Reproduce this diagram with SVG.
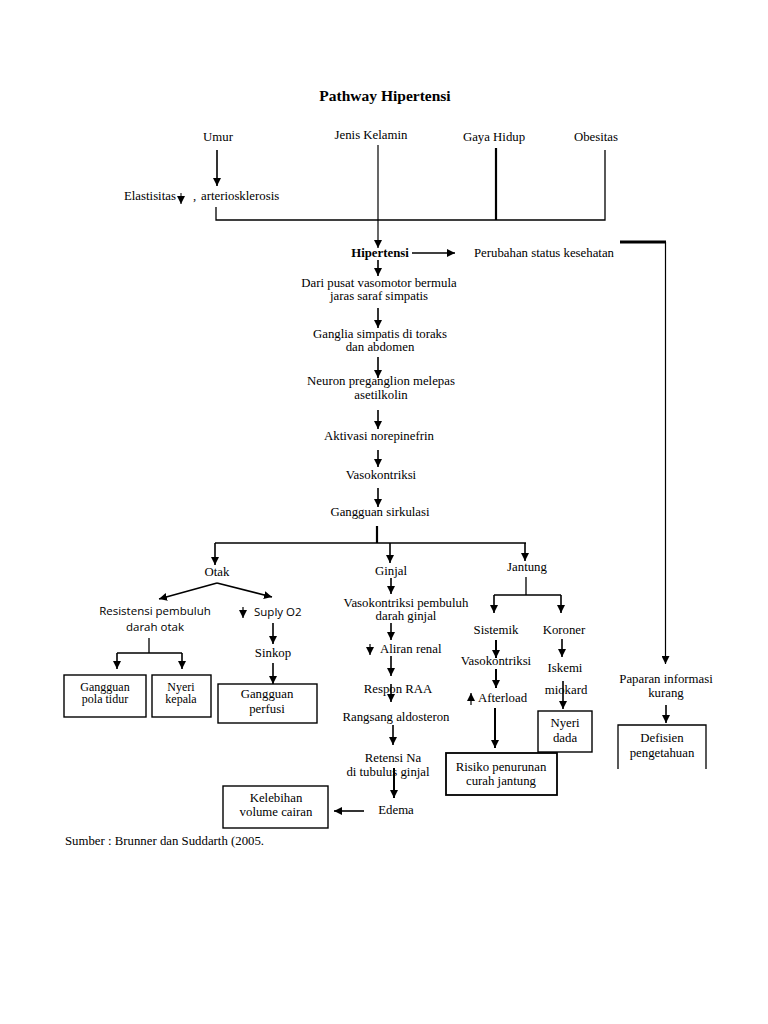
<svg xmlns="http://www.w3.org/2000/svg" width="768" height="1024" viewBox="0 0 768 1024">
<defs>
<marker id="ah" markerUnits="userSpaceOnUse" markerWidth="8" markerHeight="8" viewBox="0 0 8 8" refX="8" refY="4" orient="auto">
<path d="M0,0 L8,4 L0,8 Z" fill="#000"/>
</marker>
<style>
text{font-family:"Liberation Serif","Times New Roman",serif;font-size:12.8px;fill:#000;text-anchor:middle}
.sans{font-family:"Open Sans","Liberation Sans",sans-serif;font-size:11.5px}
.sm{font-size:12px}
.l{text-anchor:start}
.b{font-weight:bold}
.ln{stroke:#000;stroke-width:1.3;fill:none}
.th{stroke:#000;stroke-width:2.2;fill:none}
.ar{stroke:#000;stroke-width:1.6;fill:none;marker-end:url(#ah)}
.box{fill:#fff;stroke:#000;stroke-width:1.4}
</style>
</defs>
<rect width="768" height="1024" fill="#fff"/>
<text x="385" y="101" class="b" style="font-size:15.5px">Pathway Hipertensi</text>

<g id="umur"><text x="218" y="141">Umur</text></g>
<g id="jenis-kelamin"><text x="371" y="139">Jenis Kelamin</text></g>
<g id="gaya-hidup"><text x="494" y="141">Gaya Hidup</text></g>
<g id="obesitas"><text x="596" y="141">Obesitas</text></g>
<g id="elastisitas"><text x="124" y="200" class="l">Elastisitas</text><text x="193" y="200" class="l">,</text><text x="201" y="200" class="l">arteriosklerosis</text></g>
<g id="hipertensi"><text x="380" y="257" class="b">Hipertensi</text></g>
<g id="perubahan"><text x="544" y="257">Perubahan status kesehatan</text></g>
<g id="dari-pusat"><text x="379" y="287">Dari pusat vasomotor bermula</text><text x="379" y="300">jaras saraf simpatis</text></g>
<g id="ganglia"><text x="380" y="338">Ganglia simpatis di toraks</text><text x="380" y="351">dan abdomen</text></g>
<g id="neuron"><text x="381" y="385">Neuron preganglion melepas</text><text x="381" y="399">asetilkolin</text></g>
<g id="aktivasi"><text x="379" y="440">Aktivasi norepinefrin</text></g>
<g id="vasokontriksi"><text x="381" y="479">Vasokontriksi</text></g>
<g id="gangguan-sirkulasi"><text x="380" y="516">Gangguan sirkulasi</text></g>

<g id="otak"><text x="217" y="576">Otak</text></g>
<g id="resistensi"><text x="155" y="615" class="sans">Resistensi pembuluh</text><text x="155" y="631" class="sans">darah otak</text></g>
<g id="suply"><text x="254" y="616" class="sans l">Suply O2</text></g>
<g id="sinkop"><text x="273" y="657">Sinkop</text></g>
<g id="pola-tidur"><rect x="64" y="675" width="82" height="42" class="box"/><text x="105" y="691" class="sm">Gangguan</text><text x="105" y="703" class="sm">pola tidur</text></g>
<g id="nyeri-kepala"><rect x="152" y="675" width="59" height="42" class="box"/><text x="181" y="691" class="sm">Nyeri</text><text x="181" y="703" class="sm">kepala</text></g>
<g id="perfusi"><rect x="218" y="684" width="99" height="39" class="box"/><text x="267" y="698">Gangguan</text><text x="267" y="713">perfusi</text></g>

<g id="ginjal"><text x="391" y="575">Ginjal</text></g>
<g id="vaso-ginjal"><text x="406" y="607">Vasokontriksi pembuluh</text><text x="406" y="620">darah ginjal</text></g>
<g id="aliran"><text x="380" y="653" class="l">Aliran renal</text></g>
<g id="respon"><text x="398" y="693">Respon RAA</text></g>
<g id="rangsang"><text x="396" y="721">Rangsang aldosteron</text></g>
<g id="retensi"><text x="393" y="762">Retensi Na</text><text x="388" y="776">di tubulus ginjal</text></g>
<g id="edema"><text x="396" y="814">Edema</text></g>
<g id="kelebihan"><rect x="223" y="786" width="105" height="42" class="box"/><text x="276" y="802">Kelebihan</text><text x="276" y="816">volume cairan</text></g>

<g id="jantung"><text x="527" y="571">Jantung</text></g>
<g id="sistemik"><text x="496" y="634">Sistemik</text></g>
<g id="koroner"><text x="564" y="634">Koroner</text></g>
<g id="vaso-jantung"><text x="496" y="665">Vasokontriksi</text></g>
<g id="afterload"><text x="478" y="702" class="l">Afterload</text></g>
<g id="iskemi"><text x="565" y="672">Iskemi</text><text x="566" y="694">miokard</text></g>
<g id="nyeri-dada"><rect x="538" y="711" width="54" height="41" class="box"/><text x="565" y="727">Nyeri</text><text x="565" y="742">dada</text></g>
<g id="risiko"><rect x="446" y="753" width="111" height="42" class="box" style="stroke-width:1.8"/><text x="501" y="771">Risiko penurunan</text><text x="501" y="785">curah jantung</text></g>

<g id="paparan"><text x="666" y="683">Paparan informasi</text><text x="666" y="697">kurang</text></g>
<g id="defisien"><path d="M618,769 V725 H706 V769" class="ln"/><text x="662" y="742">Defisien</text><text x="662" y="757">pengetahuan</text></g>

<text x="65" y="845" class="l">Sumber : Brunner dan Suddarth (2005.</text>

<g id="connectors">
<line x1="217" y1="150" x2="217" y2="186" class="ar"/>
<line x1="181" y1="193" x2="181" y2="204" class="ar" style="stroke-width:1"/>
<path d="M216,207 V220 H605 V150" class="ln"/>
<line x1="496" y1="148" x2="496" y2="220" class="th"/>
<line x1="378" y1="145" x2="378" y2="248" class="ar" style="stroke-width:1.2"/>
<line x1="412" y1="253" x2="455" y2="253" class="ar"/>
<line x1="620" y1="242" x2="666" y2="242" class="th" style="stroke-width:3"/>
<line x1="665.5" y1="242" x2="665.5" y2="664" class="ar" style="stroke-width:1.2"/>
<line x1="666" y1="705" x2="666" y2="723" class="ar"/>
<line x1="378" y1="260" x2="378" y2="276" class="ar"/>
<line x1="378" y1="308" x2="378" y2="328" class="ar"/>
<line x1="378" y1="357" x2="378" y2="378" class="ar"/>
<line x1="378" y1="410" x2="378" y2="429" class="ar"/>
<line x1="378" y1="450" x2="378" y2="467" class="ar"/>
<line x1="378" y1="488" x2="378" y2="507" class="ar"/>
<line x1="377" y1="526" x2="377" y2="543" class="th"/>
<line x1="215" y1="543" x2="526" y2="543" class="ln"/>
<line x1="215" y1="543" x2="215" y2="565" class="ar"/>
<line x1="390" y1="543" x2="390" y2="563" class="ar"/>
<line x1="525" y1="543" x2="525" y2="561" class="ar"/>
<path d="M217,583 L159,599" class="ar"/>
<path d="M217,583 L272,597" class="ar"/>
<line x1="243" y1="607" x2="243" y2="618" class="ar" style="stroke-width:1.2"/>
<line x1="273" y1="623" x2="273" y2="644" class="ar"/>
<line x1="273" y1="663" x2="273" y2="684" class="ar"/>
<path d="M149,638 V653 M117,653 H182" class="ln"/>
<line x1="117" y1="653" x2="117" y2="669" class="ar"/>
<line x1="182" y1="653" x2="182" y2="669" class="ar"/>
<line x1="391" y1="578" x2="391" y2="594" class="ar"/>
<line x1="391" y1="623" x2="391" y2="640" class="ar"/>
<line x1="370" y1="644" x2="370" y2="655" class="ar" style="stroke-width:1.2"/>
<line x1="391" y1="656" x2="391" y2="676" class="ar"/>
<line x1="391" y1="684" x2="391" y2="702" class="ar"/>
<line x1="393" y1="725" x2="393" y2="745" class="ar"/>
<line x1="394" y1="768" x2="394" y2="798" class="ar" style="stroke-width:2"/>
<line x1="364" y1="811" x2="334" y2="811" class="ar"/>
<path d="M526,577 V595 M494,595 H561" class="ln"/>
<line x1="494" y1="595" x2="494" y2="613" class="ar"/>
<line x1="561" y1="595" x2="561" y2="613" class="ar"/>
<line x1="496" y1="640" x2="496" y2="658" class="ar" style="stroke-width:2"/>
<line x1="562" y1="639" x2="562" y2="657" class="ar"/>
<line x1="496" y1="669" x2="496" y2="688" class="ar" style="stroke-width:2"/>
<line x1="471" y1="705" x2="471" y2="693" class="ar" style="stroke-width:1.2"/>
<line x1="495" y1="708" x2="495" y2="748" class="ar" style="stroke-width:2"/>
<line x1="563" y1="681" x2="563" y2="709" class="ar"/>
</g>
</svg>
